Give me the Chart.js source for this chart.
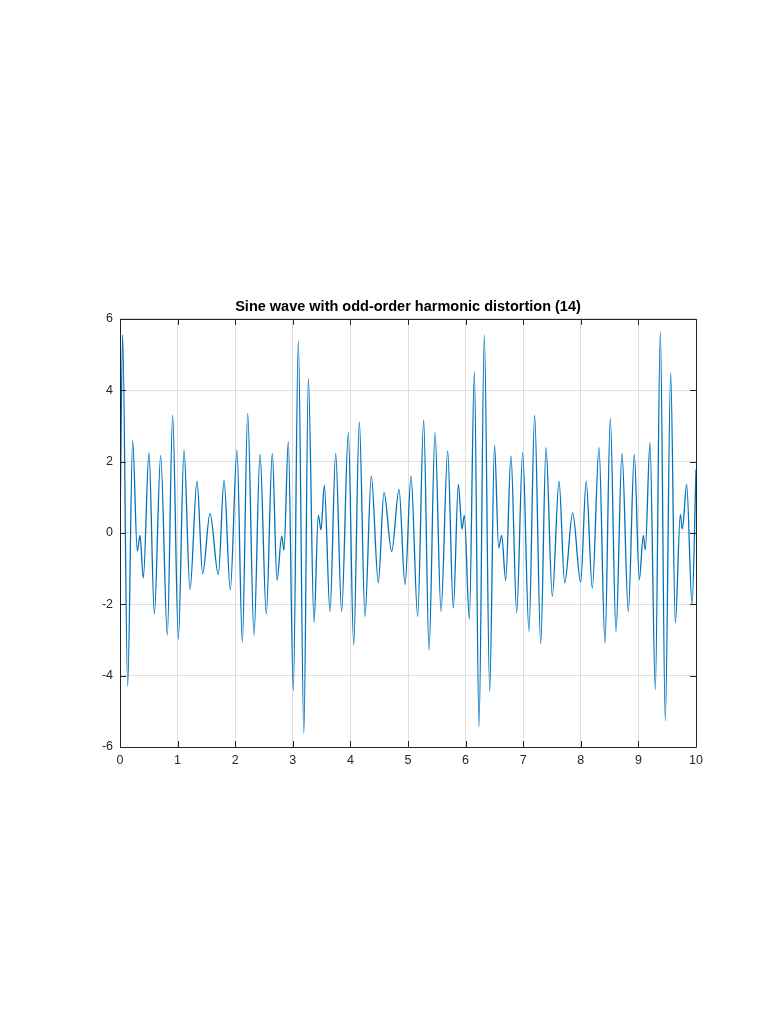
<!DOCTYPE html>
<html>
<head>
<meta charset="utf-8">
<script src="https://cdn.jsdelivr.net/npm/chart.js@4/dist/chart.umd.min.js"></script>
<style>
  html, body { margin: 0; padding: 0; background: #fff; }
  #wrap { width: 768px; height: 1024px; }
</style>
</head>
<body>
<div id="wrap"><canvas id="grafico" width="768" height="1024"></canvas></div>
<script>
// valores (extremos de la onda)
const tiempos = [
  0, 0.046, 0.133, 0.22, 0.30, 0.347, 0.405, 0.503, 0.596, 0.706,
  0.822, 0.914, 1.013, 1.111, 1.215, 1.337, 1.435, 1.563, 1.707, 1.806,
  1.915, 2.031, 2.124, 2.217, 2.326, 2.431, 2.54, 2.644, 2.726, 2.807,
  2.847, 2.922, 3.009, 3.096, 3.192, 3.27, 3.368, 3.443, 3.49, 3.547,
  3.646, 3.744, 3.848, 3.964, 4.057, 4.155, 4.253, 4.363, 4.485, 4.583,
  4.716, 4.844, 4.948, 5.052, 5.168, 5.272, 5.365, 5.469, 5.573, 5.689,
  5.787, 5.874, 5.938, 5.978, 6.065, 6.152, 6.233, 6.325, 6.418, 6.502,
  6.574, 6.626, 6.696, 6.788, 6.887, 6.991, 7.10, 7.199, 7.304, 7.396,
  7.505, 7.622, 7.72, 7.859, 7.998, 8.093, 8.2, 8.316, 8.42, 8.512,
  8.611, 8.715, 8.825, 8.929, 9.016, 9.085, 9.12, 9.201, 9.294, 9.381,
  9.467, 9.56, 9.641, 9.728, 9.763, 9.838, 9.931, 10
];
const amplitudes = [
  0, 5.56, -4.29, 2.59, -0.51, -0.07, -1.26, 2.25, -2.27, 2.17,
  -2.86, 3.30, -2.98, 2.32, -1.59, 1.45, -1.14, 0.55, -1.17, 1.48,
  -1.59, 2.32, -3.07, 3.35, -2.86, 2.20, -2.27, 2.23, -1.33, -0.09,
  -0.49, 2.56, -4.42, 5.39, -5.62, 4.34, -2.51, 0.49, 0.09, 1.33,
  -2.20, 2.23, -2.20, 2.81, -3.14, 3.11, -2.34, 1.59, -1.40, 1.14,
  -0.52, 1.22, -1.45, 1.59, -2.34, 3.17, -3.28, 2.81, -2.20, 2.29,
  -2.11, 1.36, 0.11, 0.49, -2.42, 4.52, -5.44, 5.55, -4.45, 2.46,
  -0.42, -0.07, -1.33, 2.16, -2.23, 2.25, -2.76, 3.30, -3.11, 2.39,
  -1.78, 1.45, -1.40, 0.56, -1.38, 1.45, -1.55, 2.39, -3.09, 3.21,
  -2.76, 2.23, -2.20, 2.20, -1.31, -0.07, -0.47, 2.53, -4.39, 5.64,
  -5.27, 4.50, -2.53, 0.52, 0.11, 1.36, -2.01, 1.78
];
const ticksX = [0, 1, 2, 3, 4, 5, 6, 7, 8, 9, 10];
const ticksY = [-6, -4, -2, 0, 2, 4, 6];
const titulo = "Sine wave with odd-order harmonic distortion (14)";

const puntos = tiempos.map((t, i) => ({ x: t, y: amplitudes[i] }));

// caja del eje y marcas hacia dentro (estilo matlab)
const cajaEjes = {
  id: "cajaEjes",
  afterDatasetsDraw(chart) {
    const { ctx, chartArea: a, scales } = chart;
    ctx.save();
    ctx.strokeStyle = "#262626";
    ctx.lineWidth = 1;
    ctx.beginPath();
    ctx.rect(Math.round(a.left) + 0.5, Math.round(a.top) + 0.5,
      Math.round(a.right - a.left), Math.round(a.bottom - a.top));
    ctx.stroke();
    const len = 6;
    ctx.beginPath();
    for (const v of ticksX) {
      const px = Math.round(scales.x.getPixelForValue(v)) + 0.5;
      ctx.moveTo(px, a.bottom); ctx.lineTo(px, a.bottom - len);
      ctx.moveTo(px, a.top); ctx.lineTo(px, a.top + len);
    }
    for (const v of ticksY) {
      const py = Math.round(scales.y.getPixelForValue(v)) + 0.5;
      ctx.moveTo(a.left, py); ctx.lineTo(a.left + len, py);
      ctx.moveTo(a.right, py); ctx.lineTo(a.right - len, py);
    }
    ctx.stroke();
    ctx.restore();
  }
};

const fuente = "'Liberation Sans', Arial, Helvetica, sans-serif";

new Chart(document.getElementById("grafico"), {
  type: "line",
  data: {
    datasets: [{
      data: puntos,
      borderColor: "#0072bd",
      borderWidth: 1.3,
      pointRadius: 0,
      fill: false,
      cubicInterpolationMode: "monotone"
    }]
  },
  options: {
    responsive: false,
    animation: false,
    layout: { padding: { top: 291, right: 72, bottom: 0, left: 0 } },
    plugins: {
      legend: { display: false },
      tooltip: { enabled: false },
      title: {
        display: true,
        text: titulo,
        fullSize: false,
        color: "#000",
        font: { family: fuente, size: 14.5, weight: "bold" },
        padding: { top: 7, bottom: 3.5 }
      }
    },
    scales: {
      x: {
        type: "linear",
        min: 0,
        max: 10,
        afterBuildTicks: s => { s.ticks = ticksX.map(v => ({ value: v })); },
        afterFit: s => { s.height = 277; },
        grid: { color: "#dfdfdf", drawTicks: false },
        border: { display: false },
        ticks: { color: "#262626", padding: 6, maxRotation: 0, font: { family: fuente, size: 12.5 } }
      },
      y: {
        min: -6,
        max: 6,
        afterBuildTicks: s => { s.ticks = ticksY.map(v => ({ value: v })); },
        afterFit: s => { s.width = 120; },
        grid: { color: "#dfdfdf", drawTicks: false },
        border: { display: false },
        ticks: { color: "#262626", padding: 7, font: { family: fuente, size: 12.5 } }
      }
    }
  },
  plugins: [cajaEjes]
});
</script>
</body>
</html>
